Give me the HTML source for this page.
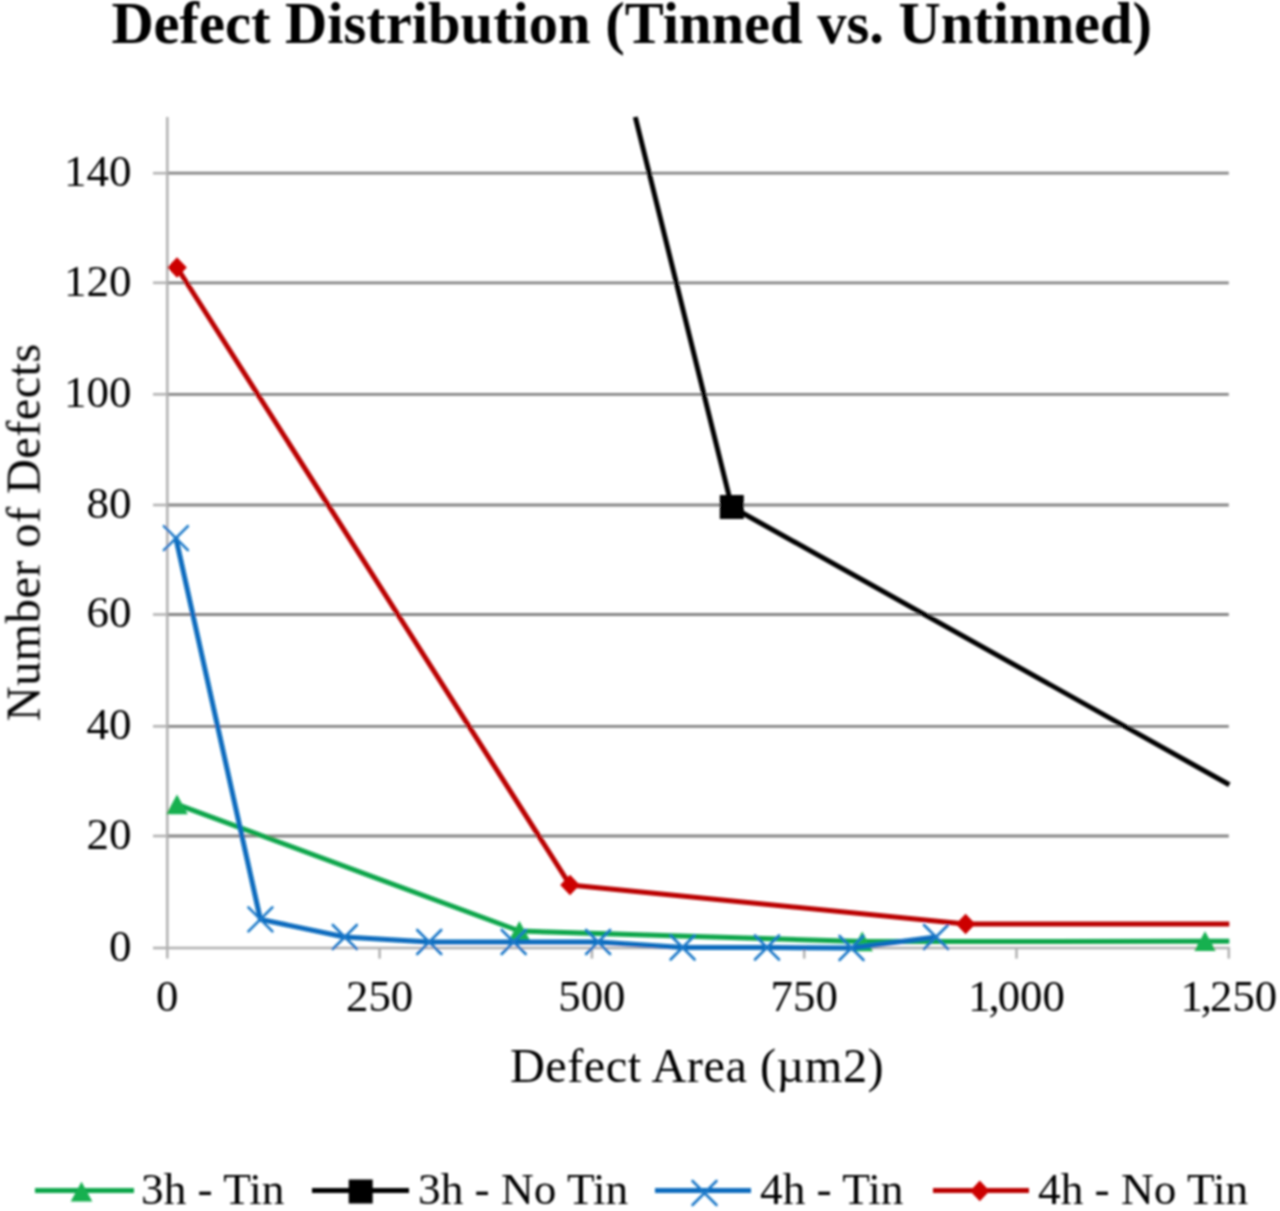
<!DOCTYPE html>
<html lang="en"><head><meta charset="utf-8"><title>Defect Distribution (Tinned vs. Untinned)</title>
<style>
html,body{margin:0;padding:0;background:#fff;}
body{width:1280px;height:1211px;overflow:hidden;font-family:"Liberation Serif",serif;}
svg{display:block;}
text{font-family:"Liberation Serif",serif;fill:#000;}
</style></head><body>
<svg width="1280" height="1211" viewBox="0 0 1280 1211">
<defs><filter id="soft" filterUnits="userSpaceOnUse" x="0" y="0" width="1280" height="1211"><feGaussianBlur stdDeviation="0.8"/></filter></defs>
<rect width="1280" height="1211" fill="#fff"/>
<g filter="url(#soft)">
<text x="631.7" y="42.5" text-anchor="middle" font-size="58.5" font-weight="bold" fill="#000">Defect Distribution (Tinned vs. Untinned)</text>
<line x1="167.3" x2="1228.8" y1="173.2" y2="173.2" stroke="#848484" stroke-width="2.8"/>
<line x1="167.3" x2="1228.8" y1="282.8" y2="282.8" stroke="#848484" stroke-width="2.8"/>
<line x1="167.3" x2="1228.8" y1="394.3" y2="394.3" stroke="#848484" stroke-width="2.8"/>
<line x1="167.3" x2="1228.8" y1="505.0" y2="505.0" stroke="#848484" stroke-width="2.8"/>
<line x1="167.3" x2="1228.8" y1="614.5" y2="614.5" stroke="#848484" stroke-width="2.8"/>
<line x1="167.3" x2="1228.8" y1="726.3" y2="726.3" stroke="#848484" stroke-width="2.8"/>
<line x1="167.3" x2="1228.8" y1="836.0" y2="836.0" stroke="#848484" stroke-width="2.8"/>
<line x1="167.3" x2="167.3" y1="117" y2="958.6" stroke="#b0b0b0" stroke-width="2.5"/>
<line x1="153" x2="1230.0" y1="948.0" y2="948.0" stroke="#b0b0b0" stroke-width="2.5"/>
<line x1="153" x2="167.3" y1="173.2" y2="173.2" stroke="#b0b0b0" stroke-width="2.5"/>
<line x1="153" x2="167.3" y1="282.8" y2="282.8" stroke="#b0b0b0" stroke-width="2.5"/>
<line x1="153" x2="167.3" y1="394.3" y2="394.3" stroke="#b0b0b0" stroke-width="2.5"/>
<line x1="153" x2="167.3" y1="505.0" y2="505.0" stroke="#b0b0b0" stroke-width="2.5"/>
<line x1="153" x2="167.3" y1="614.5" y2="614.5" stroke="#b0b0b0" stroke-width="2.5"/>
<line x1="153" x2="167.3" y1="726.3" y2="726.3" stroke="#b0b0b0" stroke-width="2.5"/>
<line x1="153" x2="167.3" y1="836.0" y2="836.0" stroke="#b0b0b0" stroke-width="2.5"/>
<line x1="379.6" x2="379.6" y1="948.0" y2="958.6" stroke="#b0b0b0" stroke-width="2.5"/>
<line x1="591.9" x2="591.9" y1="948.0" y2="958.6" stroke="#b0b0b0" stroke-width="2.5"/>
<line x1="804.2" x2="804.2" y1="948.0" y2="958.6" stroke="#b0b0b0" stroke-width="2.5"/>
<line x1="1016.5" x2="1016.5" y1="948.0" y2="958.6" stroke="#b0b0b0" stroke-width="2.5"/>
<line x1="1228.8" x2="1228.8" y1="948.0" y2="958.6" stroke="#b0b0b0" stroke-width="2.5"/>
<text x="131.6" y="186.0" text-anchor="end" font-size="45">140</text>
<text x="131.6" y="295.6" text-anchor="end" font-size="45">120</text>
<text x="131.6" y="407.1" text-anchor="end" font-size="45">100</text>
<text x="131.6" y="517.8" text-anchor="end" font-size="45">80</text>
<text x="131.6" y="627.3" text-anchor="end" font-size="45">60</text>
<text x="131.6" y="739.1" text-anchor="end" font-size="45">40</text>
<text x="131.6" y="848.8" text-anchor="end" font-size="45">20</text>
<text x="131.6" y="960.8" text-anchor="end" font-size="45">0</text>
<text x="167.3" y="1011.2" text-anchor="middle" font-size="44.8">0</text>
<text x="379.6" y="1011.2" text-anchor="middle" font-size="44.8">250</text>
<text x="591.9" y="1011.2" text-anchor="middle" font-size="44.8">500</text>
<text x="804.2" y="1011.2" text-anchor="middle" font-size="44.8">750</text>
<text x="1016.5" y="1011.2" text-anchor="middle" font-size="44.8">1<tspan dx="-2">,</tspan><tspan dx="-2">000</tspan></text>
<text x="1228.8" y="1011.2" text-anchor="middle" font-size="44.8">1<tspan dx="-2">,</tspan><tspan dx="-2">250</tspan></text>
<text x="697" y="1081.5" text-anchor="middle" font-size="48.3" letter-spacing="0.5">Defect Area (µm2)</text>
<text transform="translate(39.7,532.3) rotate(-90)" text-anchor="middle" font-size="48.3" letter-spacing="0.45">Number of Defects</text>
<polyline points="177.0,804.4 519.4,931.0 862.2,941.5 1205.0,941.3 1229.3,941.3" fill="none" stroke="#0da64c" stroke-width="5.0" stroke-linejoin="round" stroke-linecap="butt"/>
<polygon points="177.0,794.4 187.8,814.2 166.2,814.2" fill="#14b050"/>
<polygon points="519.4,921.0 530.2,940.8 508.6,940.8" fill="#14b050"/>
<polygon points="862.2,931.5 873.0,951.3 851.4,951.3" fill="#14b050"/>
<polygon points="1205.0,931.3 1215.8,951.1 1194.2,951.1" fill="#14b050"/>
<polyline points="635.3,117.0 731.8,507.0 1229.3,784.7" fill="none" stroke="#000" stroke-width="5.0" stroke-linejoin="round" stroke-linecap="butt"/>
<rect x="719.8" y="495.0" width="24" height="24" fill="#000"/>
<polyline points="175.9,538.1 260.4,919.4 344.8,937.0 429.2,942.0 513.7,942.0 598.1,942.0 682.6,947.5 767.0,947.5 851.5,948.0 936.0,937.0" fill="none" stroke="#0a6cbe" stroke-width="5.0" stroke-linejoin="round" stroke-linecap="butt"/>
<path d="M163.9,526.1L187.9,550.1M163.9,550.1L187.9,526.1" stroke="#1a78c8" stroke-width="2.6" fill="none" stroke-linecap="round"/>
<path d="M248.4,907.4L272.4,931.4M248.4,931.4L272.4,907.4" stroke="#1a78c8" stroke-width="2.6" fill="none" stroke-linecap="round"/>
<path d="M332.8,925.0L356.8,949.0M332.8,949.0L356.8,925.0" stroke="#1a78c8" stroke-width="2.6" fill="none" stroke-linecap="round"/>
<path d="M417.2,930.0L441.2,954.0M417.2,954.0L441.2,930.0" stroke="#1a78c8" stroke-width="2.6" fill="none" stroke-linecap="round"/>
<path d="M501.7,930.0L525.7,954.0M501.7,954.0L525.7,930.0" stroke="#1a78c8" stroke-width="2.6" fill="none" stroke-linecap="round"/>
<path d="M586.1,930.0L610.1,954.0M586.1,954.0L610.1,930.0" stroke="#1a78c8" stroke-width="2.6" fill="none" stroke-linecap="round"/>
<path d="M670.6,935.5L694.6,959.5M670.6,959.5L694.6,935.5" stroke="#1a78c8" stroke-width="2.6" fill="none" stroke-linecap="round"/>
<path d="M755.0,935.5L779.0,959.5M755.0,959.5L779.0,935.5" stroke="#1a78c8" stroke-width="2.6" fill="none" stroke-linecap="round"/>
<path d="M839.5,936.0L863.5,960.0M839.5,960.0L863.5,936.0" stroke="#1a78c8" stroke-width="2.6" fill="none" stroke-linecap="round"/>
<path d="M924.0,925.0L948.0,949.0M924.0,949.0L948.0,925.0" stroke="#1a78c8" stroke-width="2.6" fill="none" stroke-linecap="round"/>
<polyline points="177.0,267.5 570.0,885.0 965.6,924.0 1229.3,924.0" fill="none" stroke="#ba0606" stroke-width="5.0" stroke-linejoin="round" stroke-linecap="butt"/>
<polygon points="177.0,257.2 186.8,267.5 177.0,277.8 167.2,267.5" fill="#cc0202"/>
<polygon points="570.0,874.7 579.8,885.0 570.0,895.3 560.2,885.0" fill="#cc0202"/>
<polygon points="965.6,913.7 975.4,924.0 965.6,934.3 955.8,924.0" fill="#cc0202"/>
<polyline points="35.0,1190.5 134.0,1190.5" fill="none" stroke="#0da64c" stroke-width="5.0" stroke-linejoin="round" stroke-linecap="butt"/>
<polygon points="81.5,1181.8 92.3,1201.6 70.7,1201.6" fill="#14b050"/>
<text x="141" y="1203.7" font-size="45.3">3h - Tin</text>
<polyline points="312.0,1190.5 409.0,1190.5" fill="none" stroke="#000" stroke-width="5.0" stroke-linejoin="round" stroke-linecap="butt"/>
<rect x="348.7" y="1179.5" width="24" height="24" fill="#000"/>
<text x="418" y="1203.7" font-size="45.3">3h - No Tin</text>
<polyline points="655.0,1190.5 751.0,1190.5" fill="none" stroke="#0a6cbe" stroke-width="5.0" stroke-linejoin="round" stroke-linecap="butt"/>
<path d="M692.5,1181.0L716.5,1205.0M692.5,1205.0L716.5,1181.0" stroke="#1a78c8" stroke-width="2.6" fill="none" stroke-linecap="round"/>
<text x="760" y="1203.7" font-size="45.3">4h - Tin</text>
<polyline points="933.0,1190.5 1029.0,1190.5" fill="none" stroke="#ba0606" stroke-width="5.0" stroke-linejoin="round" stroke-linecap="butt"/>
<polygon points="979.8,1180.6 989.6,1190.9 979.8,1201.2 970.0,1190.9" fill="#cc0202"/>
<text x="1038" y="1203.7" font-size="45.3">4h - No Tin</text>
</g>
</svg>
</body></html>
